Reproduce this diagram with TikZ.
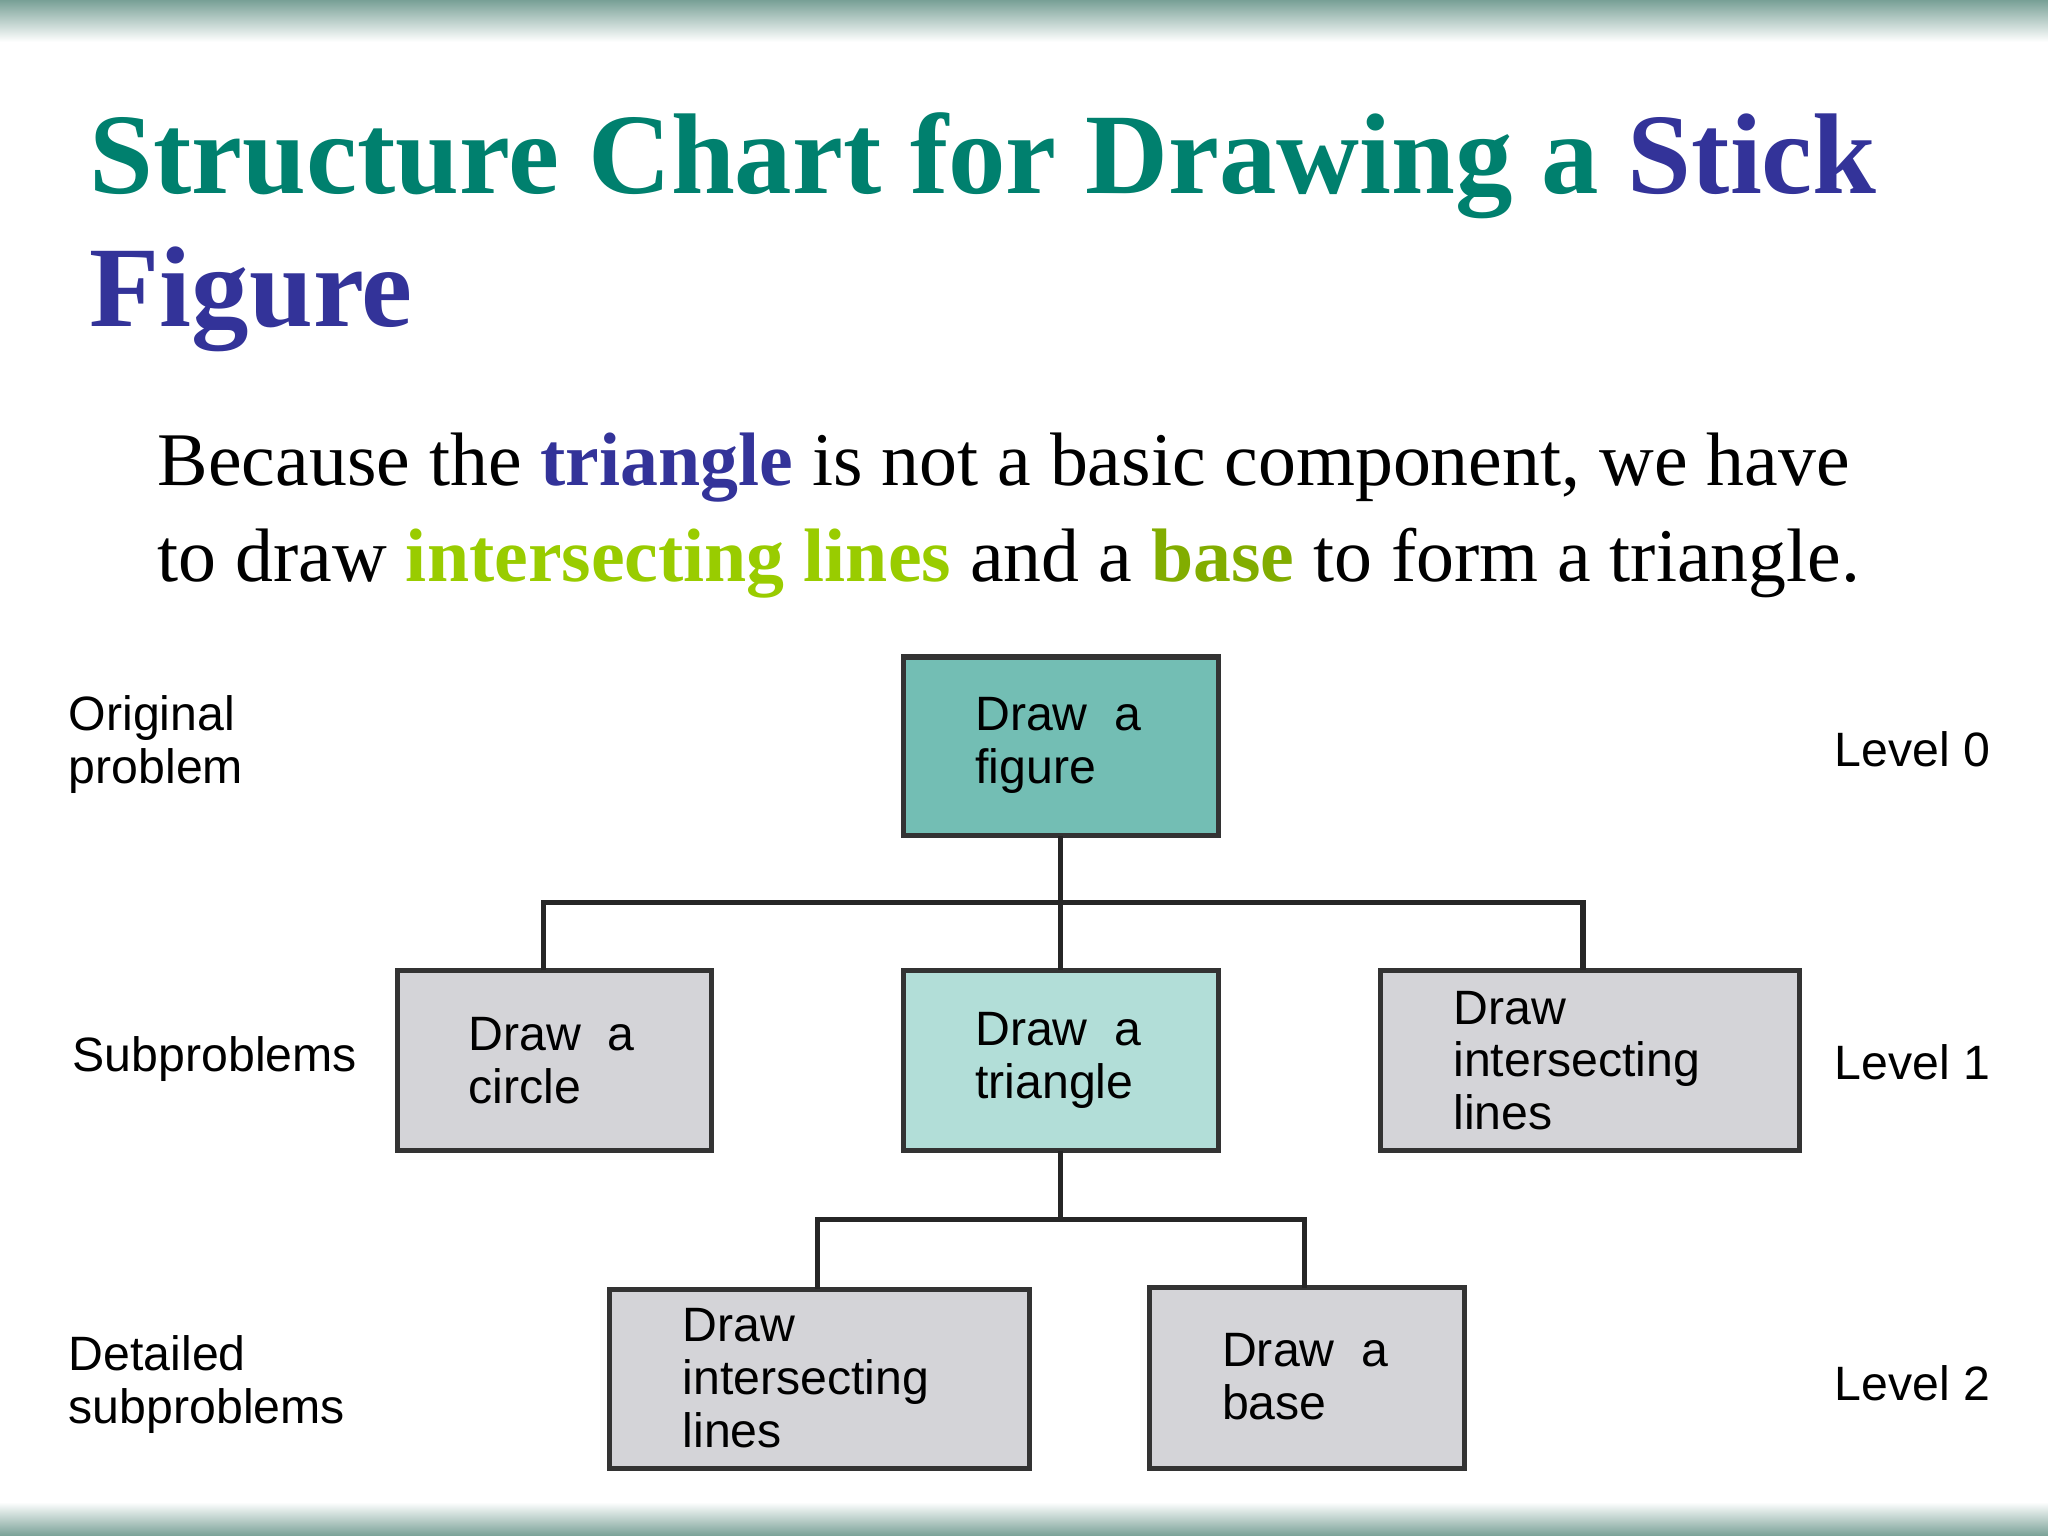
\documentclass[tikz,border=0pt]{standalone}
\usepackage{fontspec}
\setmainfont{Liberation Serif}
\newfontfamily\sansf{Liberation Sans}
\definecolor{titleteal}{RGB}{0,128,110}
\definecolor{titleblue}{RGB}{51,51,153}
\definecolor{hlgreen}{RGB}{153,204,0}
\definecolor{boxteal}{RGB}{115,190,180}
\definecolor{boxlteal}{RGB}{178,222,216}
\definecolor{boxgray}{RGB}{212,212,216}
\definecolor{strip}{RGB}{120,160,150}
\begin{document}
\begin{tikzpicture}[x=0.01cm,y=-0.01cm,
  box/.style={draw=black!80,line width=1.1pt},
  btext/.style={anchor=west,align=left,font=\sansf\fontsize{10.5}{11.5}\selectfont,inner sep=0pt},
  side/.style={anchor=west,align=left,font=\sansf\fontsize{10.5}{11.5}\selectfont,inner sep=0pt},
  conn/.style={draw=black!85,line width=1.1pt}]
\useasboundingbox (0,0) rectangle (1568,1176);
\fill[white] (0,0) rectangle (1568,1176);
\shade[top color=strip,bottom color=white] (0,0) rectangle (1568,32);
\shade[top color=white,bottom color=strip] (0,1150) rectangle (1568,1176);
% title
\node[anchor=base west,inner sep=0pt,font=\bfseries\fontsize{25}{30}\selectfont] (t1) at (68,148) {\textcolor{titleteal}{Structure Chart for Drawing a} \textcolor{titleblue}{Stick}};
\node[anchor=base west,inner sep=0pt,font=\bfseries\fontsize{25}{30}\selectfont,text=titleblue] (t2) at (68,250) {Figure};
% body
\node[anchor=base west,inner sep=0pt,font=\fontsize{16.5}{20}\selectfont] (b1) at (120,372) {Because the \textbf{\textcolor{titleblue}{triangle}} is not a basic component, we have};
\node[anchor=base west,inner sep=0pt,font=\fontsize{16.5}{20}\selectfont] (b2) at (120,445) {to draw \textbf{\textcolor{hlgreen}{intersecting lines}} and a \textbf{\textcolor{hlgreen!85!black}{base}} to form a triangle.};
% boxes
\draw[box,fill=boxteal] (692,503) rectangle (933,640); \coordinate (top) at (812,640);
\draw[box,fill=boxgray] (304,743) rectangle (545,881); \coordinate (c1) at (416,743);
\draw[box,fill=boxlteal] (692,743) rectangle (933,881); \coordinate (c2) at (812,743); \coordinate (c2b) at (812,881);
\draw[box,fill=boxgray] (1057,743) rectangle (1378,881); \coordinate (c3) at (1212,743);
\draw[box,fill=boxgray] (467,987) rectangle (788,1124); \coordinate (d1) at (626,987);
\draw[box,fill=boxgray] (880,986) rectangle (1121,1124); \coordinate (d2) at (999,986);
\node[btext] (n0) at (746,571) {Draw\ \ a\\figure};
\node[btext] (n1) at (358,812) {Draw\ \ a\\circle};
\node[btext] (n2) at (746,812) {Draw\ \ a\\triangle};
\node[btext] (n3) at (1112,812) {Draw\\intersecting\\lines};
\node[btext] (n4) at (522,1055) {Draw\\intersecting\\lines};
\node[btext] (n5) at (935,1054) {Draw\ \ a\\base};
% connectors
\coordinate (j1) at (812,691); \coordinate (j2) at (812,934);
\draw[conn] (top) -- (j1) -- (c2);
\draw[conn] (c1) |- (j1) -| (c3);
\draw[conn] (c2b) -- (j2);
\draw[conn] (d1) |- (j2) -| (d2);
% side labels
\node[side] (s0) at (52,570) {Original\\problem};
\node[side] (s1) at (55,811) {Subproblems};
\node[side] (s2) at (52,1060) {Detailed\\subproblems};
\node[side] (l0) at (1404,574) {Level\ 0};
\node[side] (l1) at (1404,813) {Level\ 1};
\node[side] (l2) at (1404,1059) {Level\ 2};
\end{tikzpicture}
\end{document}
